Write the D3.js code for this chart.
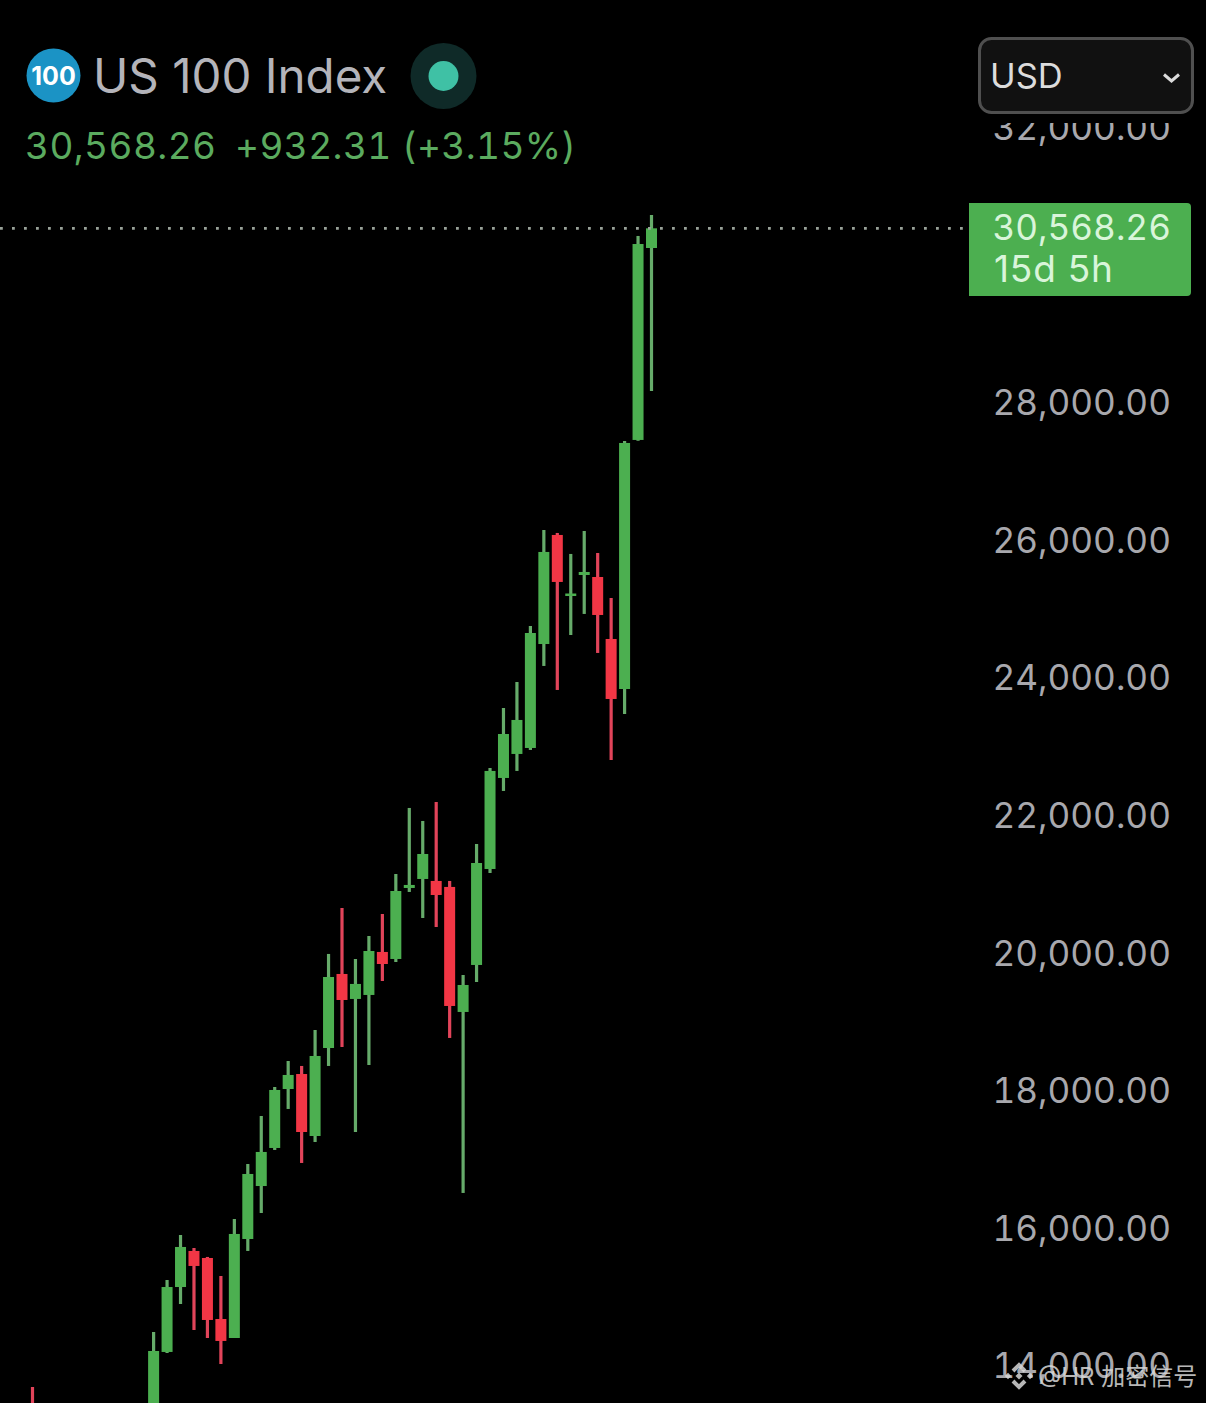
<!DOCTYPE html>
<html>
<head>
<meta charset="utf-8">
<title>US 100 Index</title>
<script src="https://cdn.jsdelivr.net/npm/d3@7"></script>
<style>
  html, body { margin: 0; padding: 0; background: #000; }
  svg { display: block; }
  text { font-family: Inter, "Noto Sans CJK SC", sans-serif; }
  .num { font-variant-numeric: tabular-nums; }
</style>
</head>
<body>
<div id="chart"></div>
<script>
// monthly candles, null = off the bottom of the screen
const opens  = [13300, null, null, null, null, null, null, null, null, 13400, 14236, 15180, 15704, 15602, 14715, 14439, 15878, 16648, 17201, 18058, 18276, 17375, 18654, 19730, 19367, 19425, 20050, 19948, 20980, 21111, 21082, 20995, 19178, 19861, 21256, 22579, 22928, 23015, 24526, 26111, 25224, 25529, 25500, 24599, 23872, 27492, 30282];
const highs  = [13727, null, null, null, null, null, null, null, null, 14526, 15282, 15936, 15747, 15617, 15340, 16169, 16968, 17666, 18087, 18465, 18393, 18916, 20021, 20689, 19948, 20282, 20602, 21183, 22143, 21954, 22230, 21082, 19715, 21619, 22724, 23596, 23974, 24788, 26183, 26140, 25835, 26169, 25849, 25195, 27477, 30457, 30762];
const lows   = [12900, null, null, null, null, null, null, null, null, 13300, 14221, 14933, 14555, 14439, 14061, 14439, 15704, 16256, 17172, 17768, 16983, 17288, 18393, 18669, 17433, 18407, 19628, 19904, 20922, 20544, 20413, 18800, 16547, 19614, 21198, 22390, 22681, 22986, 24207, 23858, 24657, 24963, 24396, 22840, 23509, 27480, 28204];
const closes = [13000, null, null, null, null, null, null, null, null, 14250, 15180, 15762, 15486, 14701, 14396, 15951, 16823, 17143, 18044, 18262, 17433, 18538, 19686, 19352, 19585, 20064, 19875, 20936, 21024, 21474, 20878, 19265, 19570, 21343, 22681, 23218, 23422, 24686, 25864, 25428, 25260, 25573, 24948, 23727, 27448, 30340, 30568];
const priceTicks = [14000, 16000, 18000, 20000, 22000, 24000, 26000, 28000, 30000, 32000];
const lastPrice = 30568.26;
const changeText = "+932.31 (+3.15%)";
const countdown = "15d 5h";

const width = 1206, height = 1403;
const green = "#4caf50", red = "#f23645";
const greenWick = "#66ab6a", redWick = "#e2445a";

const svg = d3.select("#chart").append("svg")
  .attr("width", width).attr("height", height)
  .style("background", "#000");

const x = d3.scalePoint().domain(d3.range(opens.length)).range([32.5, 651.5]);
const y = d3.scaleLinear().domain([14000, 32000]).range([1368.2, 129.8]);
const fmt = d3.format(",.2f");

// price axis, 30,000 sits behind the live price tag
const axis = svg.append("g")
  .attr("transform", "translate(1171,0)")
  .call(d3.axisLeft(y).tickValues(priceTicks.filter(d => d !== 30000)).tickFormat(fmt).tickSize(0).tickPadding(0));
axis.select(".domain").remove();
axis.selectAll("text")
  .attr("class", "num")
  .attr("dy", "0.36em")
  .attr("y", -3)
  .attr("fill", "#a8a8ad")
  .attr("font-size", 35.2);

// candles
const candles = d3.range(opens.length).filter(i => opens[i] !== null);
const g = svg.append("g");
const up = i => closes[i] >= opens[i];

g.selectAll(".wick").data(candles).join("line")
  .attr("class", "wick")
  .attr("x1", i => x(i)).attr("x2", i => x(i))
  .attr("y1", i => y(highs[i])).attr("y2", i => y(lows[i]))
  .attr("stroke", i => up(i) ? greenWick : redWick)
  .attr("stroke-width", 3.2);

g.selectAll(".body").data(candles).join("rect")
  .attr("class", "body")
  .attr("x", i => x(i) - 5.5)
  .attr("width", 11)
  .attr("y", i => y(Math.max(opens[i], closes[i])))
  .attr("height", i => Math.max(2.5, Math.abs(y(opens[i]) - y(closes[i]))))
  .attr("fill", i => up(i) ? green : red);

// last price line + tag
svg.append("line")
  .attr("x1", 0).attr("x2", 968)
  .attr("y1", y(lastPrice)).attr("y2", y(lastPrice))
  .attr("stroke", "#9aa39a").attr("stroke-width", 2.8)
  .attr("stroke-dasharray", "2.8 9.2");

svg.append("path")
  .attr("d", "M969,203H1187a4,4 0 0 1 4,4V292a4,4 0 0 1 -4,4H969Z")
  .attr("fill", green);
svg.append("text").attr("class", "num").attr("x", 1171).attr("y", 240).attr("text-anchor", "end")
  .attr("font-size", 35.2).attr("fill", "#d9f5da")
  .text(fmt(lastPrice));
svg.append("text").attr("x", 994).attr("y", 282)
  .attr("font-size", 37).attr("fill", "#d9f5da").style("letter-spacing", "0.8px")
  .text(countdown);

// the top label is cut off under the currency select
svg.append("rect").attr("x", 970).attr("y", 0).attr("width", 236).attr("height", 123).attr("fill", "#000");

// currency select
svg.append("rect")
  .attr("x", 979.5).attr("y", 38.5).attr("width", 213).attr("height", 74).attr("rx", 12)
  .attr("fill", "#111").attr("stroke", "#4f4f4f").attr("stroke-width", 3);
svg.append("text").attr("x", 990).attr("y", 88)
  .attr("font-size", 34.5).attr("fill", "#dcdcdc").text("USD");
svg.append("path")
  .attr("d", "M1164,74.5L1171.5,81L1179,74.5")
  .attr("fill", "none").attr("stroke", "#dcdcdc").attr("stroke-width", 3);

// header
svg.append("circle").attr("cx", 53.5).attr("cy", 75.5).attr("r", 27).attr("fill", "#1b93c5");
svg.append("text").attr("x", 53.5).attr("y", 85).attr("text-anchor", "middle")
  .attr("font-size", 25).attr("font-weight", 700).attr("fill", "#fff").text("100");
svg.append("text").attr("x", 93).attr("y", 93)
  .attr("font-size", 47.5).attr("fill", "#b4b4ba").text("US 100 Index");
svg.append("ellipse").attr("cx", 443.5).attr("cy", 76).attr("rx", 33).attr("ry", 33).attr("fill", "#0f2a28");
svg.append("circle").attr("cx", 443.5).attr("cy", 76).attr("r", 15).attr("fill", "#3fc1a5");
svg.append("text").attr("class", "num").attr("x", 25).attr("y", 159)
  .attr("font-size", 37).attr("fill", "#5bab5f").style("letter-spacing", "0.4px")
  .text(fmt(lastPrice));
svg.append("text").attr("class", "num").attr("x", 235).attr("y", 159)
  .attr("font-size", 37).attr("fill", "#5bab5f").style("letter-spacing", "0.4px")
  .text(changeText);

// watermark: exchange logo + handle
const mark = svg.append("g").attr("transform", "translate(1019,1376)").attr("opacity", 0.85);
[[0, 0, 5], [-11, 0, 4.5], [11, 0, 4.5]].forEach(([dx, dy, s]) => {
  mark.append("rect").attr("fill", "#d8d8d8")
    .attr("x", -s / 2).attr("y", -s / 2).attr("width", s).attr("height", s)
    .attr("transform", `translate(${dx},${dy}) rotate(45)`);
});
mark.append("path").attr("d", "M-6,-5L0,-11L6,-5M-6,5L0,11L6,5")
  .attr("fill", "none").attr("stroke", "#d8d8d8").attr("stroke-width", 4);
svg.append("text").attr("x", 1038).attr("y", 1385)
  .attr("font-size", 24).attr("fill", "#d8d8d8").attr("opacity", 0.85)
  .text("@HR 加密信号");
</script>
</body>
</html>
